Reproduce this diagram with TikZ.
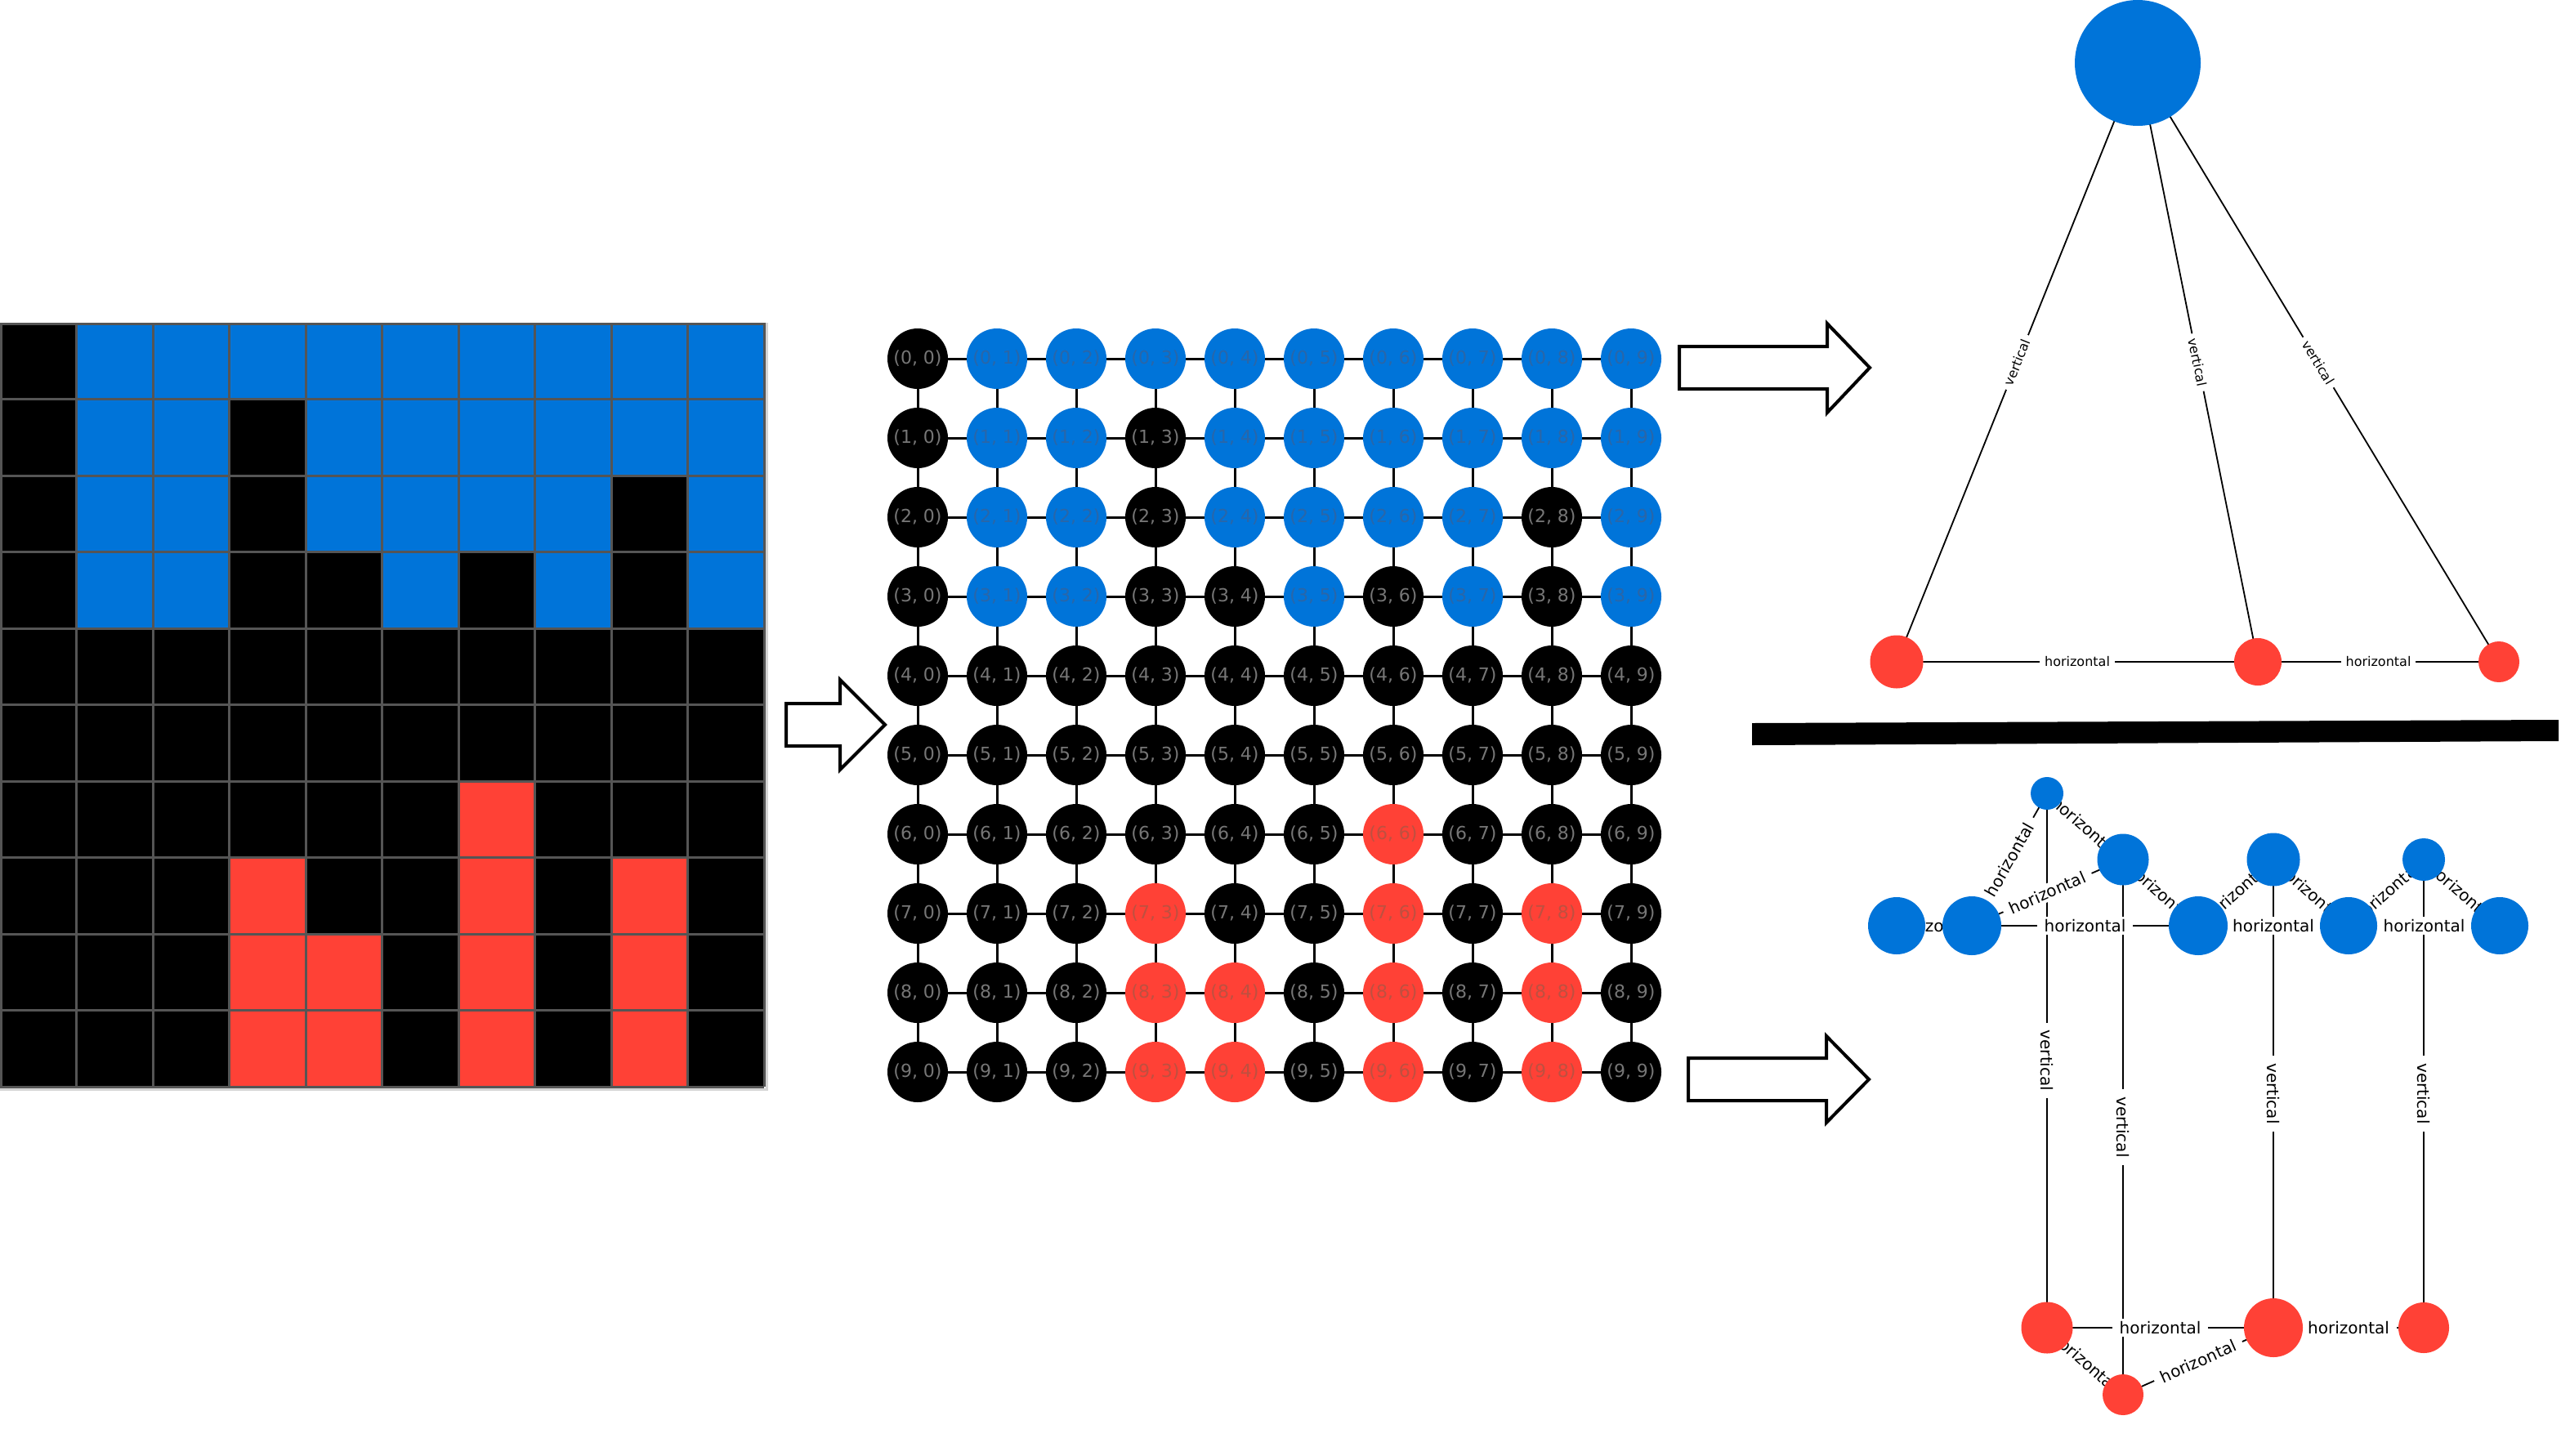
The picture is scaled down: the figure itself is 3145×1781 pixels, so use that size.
\documentclass[tikz,border=0pt]{standalone}
\usepackage{fontspec}
\setmainfont{DejaVu Sans}
\pgfdeclarelayer{bglayer}
\pgfdeclarelayer{edgelayer}
\pgfdeclarelayer{labellayer}
\pgfsetlayers{bglayer,edgelayer,labellayer,main}

\definecolor{cK}{HTML}{000000}
\definecolor{cB}{HTML}{0074D9}
\definecolor{cR}{HTML}{FF4136}
\definecolor{tK}{HTML}{767676}
\definecolor{tB}{HTML}{2A66A8}
\definecolor{tR}{HTML}{BE5040}
\definecolor{gridgray}{HTML}{555555}
\definecolor{shadowgray}{HTML}{D4D4D4}

\tikzset{
  gnode/.style={circle, minimum size=74pt, inner sep=0pt, font=\fontsize{22}{22}\selectfont},
  gedge/.style={line width=3pt, black},
  rnode/.style={circle, inner sep=0pt, draw=none},
  redge/.style={line width=1.8pt, black},
  toplbl/.style={fill=white, inner xsep=6pt, inner ysep=3pt, font=\fontsize{16}{16}\selectfont, sloped, midway},
  botlbl/.style={fill=white, inner xsep=9pt, inner ysep=3pt, font=\fontsize{20}{20}\selectfont, sloped, midway},
  bigarrow/.style={line width=4pt, draw=black, fill=white, line join=miter},
  gridline/.style={gridgray, line width=3pt},
}

\newcommand{\myedge}[4]{%
  \begin{pgfonlayer}{edgelayer}\draw[redge] (#2.center) -- (#3.center);\end{pgfonlayer}%
  \begin{pgfonlayer}{labellayer}\path (#2.center) -- (#3.center) node[#1]{#4};\end{pgfonlayer}%
}

\begin{document}
\begin{tikzpicture}[x=1pt,y=-1pt]
\useasboundingbox (0,0) rectangle (3145,1781);
\begin{pgfonlayer}{bglayer}
\fill[white] (0,0) rectangle (3145,1781);
\end{pgfonlayer}

% ---------- left pixel grid ----------
\def\gridrows{{K,B,B,B,B,B,B,B,B,B},{K,B,B,K,B,B,B,B,B,B},{K,B,B,K,B,B,B,B,K,B},{K,B,B,K,K,B,K,B,K,B},{K,K,K,K,K,K,K,K,K,K},{K,K,K,K,K,K,K,K,K,K},{K,K,K,K,K,K,R,K,K,K},{K,K,K,R,K,K,R,K,R,K},{K,K,K,R,R,K,R,K,R,K},{K,K,K,R,R,K,R,K,R,K}}

\draw[shadowgray, line width=3pt] (0,1333) -- (938.5,1333) -- (938.5,395);
\foreach \row [count=\i from 0] in \gridrows {
  \foreach \c [count=\j from 0] in \row {
    \fill[fill=c\c] ({\j*93.5},{395+\i*93.5}) rectangle ++(93.5,93.5);
  }
}
\foreach \k in {1,...,10} {
  \draw[gridline] ({\k*93.5},395) -- ({\k*93.5},1330);
  \draw[gridline] (0,{395+\k*93.5}) -- (935,{395+\k*93.5});
}
\draw[gridline] (1.5,395) -- (1.5,1330);
\draw[gridline] (0,396.5) -- (935,396.5);

% ---------- arrows ----------
\draw[bigarrow] (962,861) -- (1028,861) -- (1028,832) -- (1083,887) -- (1028,942) -- (1028,913) -- (962,913) -- cycle;
\draw[bigarrow] (2055,424) -- (2236,424) -- (2236,396) -- (2288,450) -- (2236,505) -- (2236,476) -- (2055,476) -- cycle;
\draw[bigarrow] (2066,1295) -- (2235,1295) -- (2235,1268) -- (2287,1321) -- (2235,1374) -- (2235,1347) -- (2066,1347) -- cycle;

% ---------- middle grid graph ----------
\foreach \row [count=\i from 0] in \gridrows {
  \foreach \c [count=\j from 0] in \row {
    \node[gnode, fill=c\c, text=t\c] (m-\i-\j) at ({1123+97*\j},{439+97*\i}) {(\i, \j)};
  }
}
\begin{pgfonlayer}{edgelayer}
\foreach \i in {0,...,9} {
  \foreach \j [evaluate=\j as \jj using int(\j+1)] in {0,...,8} {
    \draw[gedge] (m-\i-\j.center) -- (m-\i-\jj.center);
    \draw[gedge] (m-\j-\i.center) -- (m-\jj-\i.center);
  }
}
\end{pgfonlayer}

% ---------- separator bar ----------
\fill[black] (2144,885) -- (3131,881) -- (3131,907) -- (2144,912) -- cycle;

% ---------- top right graph ----------
\node[rnode, fill=cB, minimum size=154pt] (T0) at (2616,77) {};
\node[rnode, fill=cR, minimum size=65pt] (T1) at (2321,810) {};
\node[rnode, fill=cR, minimum size=58pt] (T2) at (2763,810) {};
\node[rnode, fill=cR, minimum size=50pt] (T3) at (3058,810) {};
\myedge{toplbl}{T0}{T1}{vertical}
\myedge{toplbl}{T0}{T2}{vertical}
\myedge{toplbl}{T0}{T3}{vertical}
\myedge{toplbl}{T1}{T2}{horizontal}
\myedge{toplbl}{T2}{T3}{horizontal}

% ---------- bottom right graph ----------
\node[rnode, fill=cB, minimum size=70pt] (A) at (2321,1133) {};
\node[rnode, fill=cB, minimum size=72pt] (B) at (2413,1133) {};
\node[rnode, fill=cB, minimum size=40pt] (C) at (2505,971) {};
\node[rnode, fill=cB, minimum size=63pt] (D) at (2598,1052) {};
\node[rnode, fill=cB, minimum size=72pt] (E) at (2690,1133) {};
\node[rnode, fill=cB, minimum size=65pt] (F) at (2782,1052) {};
\node[rnode, fill=cB, minimum size=70pt] (G) at (2874,1133) {};
\node[rnode, fill=cB, minimum size=52pt] (H) at (2966,1052) {};
\node[rnode, fill=cB, minimum size=70pt] (I) at (3059,1133) {};
\node[rnode, fill=cR, minimum size=63pt] (R1) at (2505,1625) {};
\node[rnode, fill=cR, minimum size=50pt] (R2) at (2598,1707) {};
\node[rnode, fill=cR, minimum size=72pt] (R3) at (2782,1625) {};
\node[rnode, fill=cR, minimum size=62pt] (R4) at (2966,1625) {};

\myedge{botlbl}{A}{B}{horizontal}
\myedge{botlbl}{B}{C}{horizontal}
\myedge{botlbl}{B}{D}{horizontal}
\myedge{botlbl}{C}{D}{horizontal}
\myedge{botlbl}{B}{E}{horizontal}
\myedge{botlbl}{D}{E}{horizontal}
\myedge{botlbl}{E}{F}{horizontal}
\myedge{botlbl}{E}{G}{horizontal}
\myedge{botlbl}{F}{G}{horizontal}
\myedge{botlbl}{G}{H}{horizontal}
\myedge{botlbl}{G}{I}{horizontal}
\myedge{botlbl}{H}{I}{horizontal}
\myedge{botlbl}{C}{R1}{vertical}
\myedge{botlbl}{D}{R2}{vertical}
\myedge{botlbl}{F}{R3}{vertical}
\myedge{botlbl}{H}{R4}{vertical}
\myedge{botlbl}{R1}{R3}{horizontal}
\myedge{botlbl}{R3}{R4}{horizontal}
\myedge{botlbl}{R1}{R2}{horizontal}
\myedge{botlbl}{R2}{R3}{horizontal}
\end{tikzpicture}
\end{document}
